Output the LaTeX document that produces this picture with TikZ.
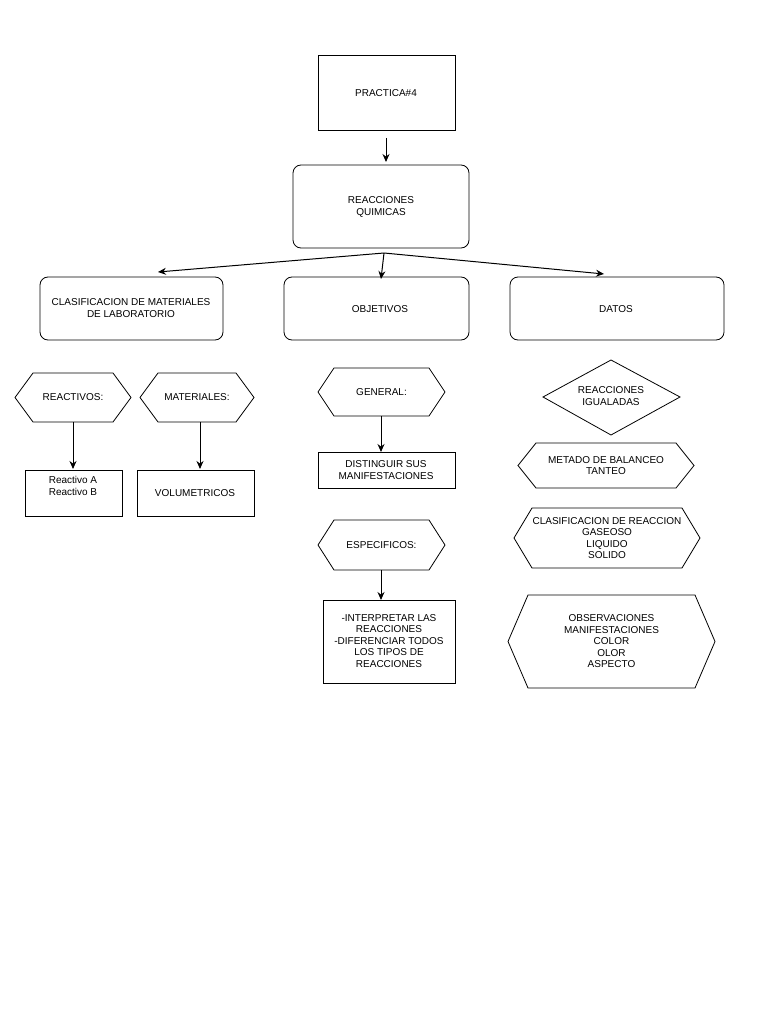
\documentclass[tikz,border=0pt]{standalone}
\usepackage{fontspec}
\setmainfont{Liberation Sans}
\usetikzlibrary{arrows.meta}
\begin{document}
\begin{tikzpicture}[x=1pt,y=-1pt,
  txt/.style={align=center,font=\fontsize{10}{11.5}\selectfont,inner sep=0pt},
  box/.style={draw,line width=0.8pt},
  rbox/.style={draw,line width=0.8pt,rounded corners=8pt},
  arr/.style={line width=1pt,-{Stealth[length=8pt,width=7pt]}}]
\useasboundingbox (0,0) rectangle (768,1024);
\newcommand{\hexa}[7]{%
  \draw[line width=0.8pt] (#2,{(#3+#5)/2}) -- (#2+#6,#3) -- (#4-#6,#3) -- (#4,{(#3+#5)/2}) -- (#4-#6,#5) -- (#2+#6,#5) -- cycle;
  \node[txt] (#1) at ({(#2+#4)/2},{(#3+#5)/2}) {#7};}
\draw[box] (318,55) rectangle (455,130);
\node[txt] (p) at (386,93) {PRACTICA\#4};
\coordinate (pb) at (386,138);
\draw[rbox] (293,165) rectangle (469,248);
\node[txt] (rq) at (381,207) {REACCIONES\\QUIMICAS};
\coordinate (rqt) at (386,162);
\coordinate (rqb) at (384,253);
\draw[arr] (pb) -- (rqt);
\draw[rbox] (40,277) rectangle (223,340);
\node[txt] (cm) at (131,308) {CLASIFICACION DE MATERIALES\\DE LABORATORIO};
\draw[rbox] (284,277) rectangle (469,340);
\node[txt] (ob) at (380,309) {OBJETIVOS};
\draw[rbox] (510,277) rectangle (724,340);
\node[txt] (da) at (616,309) {DATOS};
\coordinate (cmt) at (158,272);
\coordinate (obt) at (381,279);
\coordinate (dat) at (604,274);
\draw[arr] (rqb) -- (cmt);
\draw[arr] (rqb) -- (obt);
\draw[arr] (rqb) -- (dat);
\hexa{re}{15}{373}{131}{422}{18}{REACTIVOS:}
\hexa{ma}{140}{373}{254}{422}{18}{MATERIALES:}
\draw[box] (25,470) rectangle (122,516);
\node[txt] (ra) at (73,486) {Reactivo A\\Reactivo B};
\draw[box] (137,470) rectangle (254,516);
\node[txt] (vo) at (195,493) {VOLUMETRICOS};
\coordinate (reb) at (73,422);
\coordinate (rat) at (73,469);
\coordinate (mab) at (200,422);
\coordinate (vot) at (200,469);
\draw[arr] (reb) -- (rat);
\draw[arr] (mab) -- (vot);
\hexa{ge}{318}{368}{445}{416}{16}{GENERAL:}
\draw[box] (318,452) rectangle (455,488);
\node[txt] (di) at (386,470) {DISTINGUIR SUS\\MANIFESTACIONES};
\coordinate (dit) at (381,452);
\coordinate (geb) at (381,416);
\draw[arr] (geb) -- (dit);
\hexa{es}{318}{520}{445}{570}{16}{ESPECIFICOS:}
\draw[box] (323,600) rectangle (455,683);
\node[txt] (in) at (389,641) {-INTERPRETAR LAS\\REACCIONES\\-DIFERENCIAR TODOS\\LOS TIPOS DE\\REACCIONES};
\coordinate (int) at (381,600);
\coordinate (esb) at (381,570);
\draw[arr] (esb) -- (int);
\draw[line width=0.8pt] (543,397) -- (611,360) -- (680,397) -- (611,435) -- cycle;
\node[txt] (ri) at (611,396) {REACCIONES\\IGUALADAS};
\hexa{mb}{518}{443}{694}{488}{18}{METADO DE BALANCEO\\TANTEO}
\hexa{cr}{514}{508}{700}{568}{18}{CLASIFICACION DE REACCION\\GASEOSO\\LIQUIDO\\SOLIDO}
\hexa{os}{508}{595}{715}{688}{20}{OBSERVACIONES\\MANIFESTACIONES\\COLOR\\OLOR\\ASPECTO}
\end{tikzpicture}
\end{document}
